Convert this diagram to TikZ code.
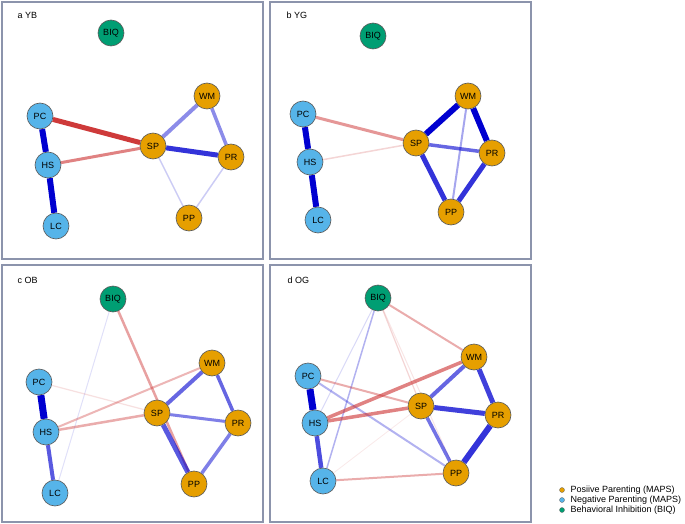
\documentclass[tikz,border=0pt]{standalone}
\usepackage{fontspec}
\setmainfont{Liberation Sans}
\usetikzlibrary{backgrounds}
\definecolor{posorange}{HTML}{E69F00}
\definecolor{negblue}{HTML}{56B4E9}
\definecolor{bhgreen}{HTML}{009E73}
\definecolor{edgeblue}{HTML}{0000D0}
\definecolor{edgered}{HTML}{CC3030}
\definecolor{framecol}{HTML}{8C94AC}

\begin{document}
\begin{tikzpicture}[x=1pt, y=-1pt,
   var/.style={circle, draw=black!65, line width=0.6pt, minimum size=26pt,
               inner sep=0pt, font=\fontsize{9}{10}\selectfont},
   pp/.style={var, fill=posorange},
   np/.style={var, fill=negblue},
   bi/.style={var, fill=bhgreen},
   posedge/.style 2 args={draw=edgeblue, line width=#1, draw opacity=#2},
   negedge/.style 2 args={draw=edgered, line width=#1, draw opacity=#2},
   panel/.style={draw=framecol, line width=1.2pt},
   tag/.style={font=\fontsize{9}{10}\selectfont, anchor=west},
   legdot/.style={circle, draw=black!60, line width=0.3pt, minimum size=5pt, inner sep=0pt},
   legtxt/.style={font=\fontsize{9}{10}\selectfont, anchor=west}]
  \begin{scope}[on background layer]
    \fill[white] (0,0) rectangle (685,524);
  \end{scope}
  \useasboundingbox (0,0) rectangle (685,524);

  % frames
  \draw[panel] (2,2) rectangle (263,259);
  \draw[panel] (270,2) rectangle (531,259);
  \draw[panel] (2,265) rectangle (263,522);
  \draw[panel] (270,265) rectangle (531,522);

  % a YB
  \node[tag] (taga) at (14,15) {a YB};
  \node[bi] (aBIQ) at (111,33) {BIQ};
  \node[np] (aPC) at (40,116) {PC};
  \node[np] (aHS) at (48,165) {HS};
  \node[np] (aLC) at (56,226) {LC};
  \node[pp] (aSP) at (153,146) {SP};
  \node[pp] (aWM) at (207,96) {WM};
  \node[pp] (aPR) at (231,157) {PR};
  \node[pp] (aPP) at (189,218) {PP};

  % b YG
  \node[tag] (tagb) at (283,15) {b YG};
  \node[bi] (bBIQ) at (373,36) {BIQ};
  \node[np] (bPC) at (303,114) {PC};
  \node[np] (bHS) at (310,162) {HS};
  \node[np] (bLC) at (318,220) {LC};
  \node[pp] (bSP) at (416,143) {SP};
  \node[pp] (bWM) at (468,96) {WM};
  \node[pp] (bPR) at (492,153) {PR};
  \node[pp] (bPP) at (451,212) {PP};

  % c OB
  \node[tag] (tagc) at (14,280) {c OB};
  \node[bi] (cBIQ) at (113,299) {BIQ};
  \node[np] (cPC) at (39,382) {PC};
  \node[np] (cHS) at (46,432) {HS};
  \node[np] (cLC) at (55,493) {LC};
  \node[pp] (cSP) at (157,413) {SP};
  \node[pp] (cWM) at (212,363) {WM};
  \node[pp] (cPR) at (238,423) {PR};
  \node[pp] (cPP) at (194,484) {PP};

  % d OG
  \node[tag] (tagd) at (284,280) {d OG};
  \node[bi] (dBIQ) at (378,298) {BIQ};
  \node[np] (dPC) at (308,376) {PC};
  \node[np] (dHS) at (315,423) {HS};
  \node[np] (dLC) at (323,481) {LC};
  \node[pp] (dSP) at (421,406) {SP};
  \node[pp] (dWM) at (474,357) {WM};
  \node[pp] (dPR) at (498,415) {PR};
  \node[pp] (dPP) at (456,473) {PP};

  \begin{scope}[on background layer]
    % edges a
    \draw[posedge={6pt}{1}] (aPC) -- (aHS);
    \draw[posedge={6pt}{1}] (aHS) -- (aLC);
    \draw[negedge={5pt}{0.95}] (aPC) -- (aSP);
    \draw[negedge={3pt}{0.6}] (aHS) -- (aSP);
    \draw[posedge={4pt}{0.45}] (aSP) -- (aWM);
    \draw[posedge={3.5pt}{0.45}] (aWM) -- (aPR);
    \draw[posedge={5pt}{0.8}] (aSP) -- (aPR);
    \draw[posedge={1.5pt}{0.2}] (aSP) -- (aPP);
    \draw[posedge={1.5pt}{0.2}] (aPR) -- (aPP);
    % edges b
    \draw[posedge={6pt}{1}] (bPC) -- (bHS);
    \draw[posedge={6pt}{1}] (bHS) -- (bLC);
    \draw[negedge={3pt}{0.5}] (bPC) -- (bSP);
    \draw[negedge={1.5pt}{0.2}] (bHS) -- (bSP);
    \draw[posedge={6pt}{1}] (bSP) -- (bWM);
    \draw[posedge={6pt}{1}] (bWM) -- (bPR);
    \draw[posedge={3.5pt}{0.6}] (bSP) -- (bPR);
    \draw[posedge={5pt}{0.8}] (bSP) -- (bPP);
    \draw[posedge={5pt}{0.8}] (bPR) -- (bPP);
    \draw[posedge={2pt}{0.35}] (bWM) -- (bPP);
    % edges c
    \draw[posedge={7pt}{1}] (cPC) -- (cHS);
    \draw[posedge={4pt}{0.65}] (cHS) -- (cLC);
    \draw[negedge={2.5pt}{0.45}] (cBIQ) -- (cPP);
    \draw[posedge={1pt}{0.12}] (cBIQ) -- (cLC);
    \draw[negedge={1.2pt}{0.15}] (cPC) -- (cSP);
    \draw[negedge={2pt}{0.35}] (cHS) -- (cWM);
    \draw[negedge={2.5pt}{0.4}] (cHS) -- (cSP);
    \draw[posedge={4pt}{0.6}] (cSP) -- (cWM);
    \draw[posedge={3.5pt}{0.6}] (cWM) -- (cPR);
    \draw[posedge={3pt}{0.5}] (cSP) -- (cPR);
    \draw[posedge={5pt}{0.65}] (cSP) -- (cPP);
    \draw[posedge={3.5pt}{0.5}] (cPR) -- (cPP);
    % edges d
    \draw[posedge={7pt}{1}] (dPC) -- (dHS);
    \draw[posedge={4.5pt}{0.7}] (dHS) -- (dLC);
    \draw[negedge={2pt}{0.4}] (dBIQ) -- (dWM);
    \draw[posedge={1pt}{0.15}] (dBIQ) -- (dHS);
    \draw[posedge={1.5pt}{0.3}] (dBIQ) -- (dLC);
    \draw[negedge={1.2pt}{0.2}] (dBIQ) -- (dSP);
    \draw[negedge={1pt}{0.12}] (dBIQ) -- (dPP);
    \draw[negedge={2pt}{0.4}] (dPC) -- (dSP);
    \draw[posedge={2pt}{0.3}] (dPC) -- (dPP);
    \draw[negedge={3.5pt}{0.6}] (dHS) -- (dWM);
    \draw[negedge={3.5pt}{0.6}] (dHS) -- (dSP);
    \draw[negedge={2pt}{0.4}] (dLC) -- (dPP);
    \draw[negedge={0.8pt}{0.1}] (dLC) -- (dSP);
    \draw[posedge={4pt}{0.6}] (dSP) -- (dWM);
    \draw[posedge={5pt}{0.75}] (dWM) -- (dPR);
    \draw[posedge={5pt}{0.75}] (dSP) -- (dPR);
    \draw[posedge={3.5pt}{0.55}] (dSP) -- (dPP);
    \draw[posedge={6pt}{0.8}] (dPR) -- (dPP);
  \end{scope}

  % legend
  \node[legdot, fill=posorange] (lpos) at (562,490) {};
  \node[legtxt] (tpos) at (567,490) {Posiive Parenting (MAPS)};
  \node[legdot, fill=negblue] (lneg) at (562,500) {};
  \node[legtxt] (tneg) at (567,500) {Negative Parenting (MAPS)};
  \node[legdot, fill=bhgreen] (lbh) at (562,510) {};
  \node[legtxt] (tbh) at (567,510) {Behavioral Inhibition (BIQ)};
\end{tikzpicture}
\end{document}
